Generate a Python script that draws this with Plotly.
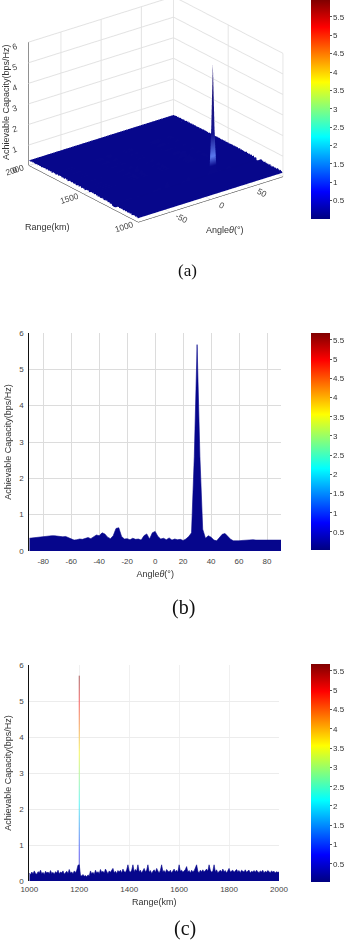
import numpy as np
import plotly.graph_objects as go

# ---------------- data ----------------
angle_deg = list(range(-90, 91, 2))
angle_cap = [0.35, 0.36, 0.37, 0.39, 0.40, 0.40, 0.41, 0.41, 0.42, 0.42,
             0.41, 0.38, 0.39, 0.40, 0.37, 0.33, 0.30, 0.31, 0.33, 0.32,
             0.35, 0.37, 0.34, 0.40, 0.44, 0.42, 0.50, 0.47, 0.38, 0.34,
             0.42, 0.62, 0.64, 0.40, 0.33, 0.34, 0.31, 0.35, 0.32, 0.33,
             0.30, 0.42, 0.47, 0.33, 0.50, 0.54, 0.40, 0.33, 0.35, 0.31,
             0.36, 0.30, 0.33, 0.31, 0.32, 0.29, 0.33, 0.40, 0.50, 2.60,
             5.68, 2.60, 0.60, 0.35, 0.42, 0.38, 0.30, 0.28, 0.36, 0.46,
             0.48, 0.40, 0.32, 0.28, 0.27, 0.28, 0.29, 0.30, 0.30, 0.31,
             0.31, 0.30, 0.30, 0.29, 0.30, 0.30, 0.29, 0.30, 0.30, 0.30,
             0.30]

range_km = list(range(1000, 2001, 5))
range_cap = [0.22, 0.18, 0.25, 0.20, 0.28, 0.21, 0.19, 0.26, 0.23, 0.30,
             0.20, 0.24, 0.18, 0.27, 0.22, 0.25, 0.20, 0.29, 0.21, 0.24,
             0.19, 0.26, 0.22, 0.30, 0.20, 0.25, 0.23, 0.28, 0.19, 0.24,
             0.27, 0.21, 0.32, 0.22, 0.25, 0.20, 0.28, 0.23, 0.30, 0.44,
             5.68,
             0.16, 0.14, 0.18, 0.13, 0.15, 0.12, 0.17, 0.14, 0.28, 0.20,
             0.24, 0.18, 0.30, 0.22, 0.26, 0.20, 0.32, 0.24, 0.27,
             0.22, 0.33, 0.25, 0.20, 0.28, 0.24, 0.30, 0.35, 0.23, 0.27,
             0.21, 0.29, 0.25, 0.30, 0.22, 0.33, 0.26, 0.24, 0.31, 0.45,
             0.28, 0.24, 0.30, 0.50, 0.26, 0.32, 0.27, 0.55, 0.25, 0.30,
             0.22, 0.28, 0.35, 0.26, 0.30, 0.68, 0.24, 0.29, 0.21, 0.27,
             0.31, 0.24, 0.35, 0.28, 0.22, 0.30, 0.50, 0.26, 0.29, 0.23,
             0.32, 0.27, 0.25, 0.30, 0.22, 0.28, 0.33, 0.25, 0.30, 0.24,
             0.45, 0.27, 0.30, 0.24, 0.28, 0.32, 0.40, 0.25, 0.29, 0.22,
             0.30, 0.26, 0.28, 0.35, 0.50, 0.27, 0.23, 0.30, 0.26, 0.31,
             0.25, 0.29, 0.33, 0.27, 0.55, 0.30, 0.24, 0.28, 0.45, 0.26,
             0.31, 0.23, 0.27, 0.30, 0.25, 0.33, 0.26, 0.29, 0.22, 0.28,
             0.35, 0.25, 0.28, 0.30, 0.24, 0.27, 0.32, 0.26, 0.29, 0.23,
             0.30, 0.27, 0.25, 0.31, 0.24, 0.28, 0.30, 0.22, 0.27, 0.25,
             0.29, 0.24, 0.30, 0.26, 0.23, 0.28, 0.25, 0.30, 0.22, 0.27,
             0.24, 0.29, 0.26, 0.23, 0.28, 0.25, 0.27, 0.22, 0.26, 0.24,
             0.25]

peak_capacity = 5.68
peak_angle = 30
peak_range = 1200

cap_ticks = [0.5, 1, 1.5, 2, 2.5, 3, 3.5, 4, 4.5, 5, 5.5]
cap_ticktext = ['0.5', '1', '1.5', '2', '2.5', '3', '3.5', '4', '4.5', '5', '5.5']
z_ticks = [0, 1, 2, 3, 4, 5, 6]
angle_ticks_2d = [-80, -60, -40, -20, 0, 20, 40, 60, 80]
angle_ticktext_2d = ['-80', '-60', '-40', '-20', '0', '20', '40', '60', '80']
angle_ticks_3d = [-50, 0, 50]
angle_ticktext_3d = ['-50', '0', '50']
range_ticks_2d = [1000, 1200, 1400, 1600, 1800, 2000]
range_ticks_3d = [1000, 1500, 2000]

# ---------------- style ----------------
W, H = 346, 946
NAVY = '#06068c'
JET = [[0.0, '#000080'], [0.125, '#0000ff'], [0.375, '#00ffff'],
       [0.625, '#ffff00'], [0.875, '#ff0000'], [1.0, '#800000']]
# surface rendered dark like a densely meshed MATLAB surf
SURF = [[0.0, '#07078a'], [0.12, '#08088c'], [0.2, '#5a78ee'],
        [0.38, '#14148e'], [1.0, '#2a1c72']]
SANS = 'Liberation Sans, Arial, sans-serif'
TICKFONT = dict(family=SANS, size=8, color='#444')
TICKFONT3D = dict(family=SANS, size=10, color='#444')
TITLEFONT = dict(family=SANS, size=9, color='#333')


def px_x(p):
    return p / W


def px_y(p):
    return 1 - p / H


def cbar(top, bottom):
    return dict(x=px_x(311), xanchor='left', xpad=0,
                y=px_y(top), yanchor='top', ypad=0,
                len=(bottom - top) / H, lenmode='fraction',
                thickness=19, thicknessmode='pixels',
                outlinewidth=0, ticks='outside', ticklen=2, tickcolor='#555',
                tickvals=cap_ticks, ticktext=cap_ticktext,
                tickfont=dict(family=SANS, size=8, color='#333'))


def note(text, x, y, font, angle=0):
    return dict(text=text, x=px_x(x), y=px_y(y), xref='paper', yref='paper',
                xanchor='center', yanchor='middle', textangle=angle,
                showarrow=False, font=font)


# surface table built from the two profiles
Z = np.minimum.outer(np.array(range_cap), np.array(angle_cap))

fig = go.Figure()

# (a) 3D surface
fig.add_trace(go.Surface(
    x=angle_deg, y=range_km, z=Z, scene='scene',
    colorscale=SURF, cmin=0, cmax=5.96, showscale=False,
    lighting=dict(ambient=1, diffuse=0, specular=0, roughness=1, fresnel=0),
    hoverinfo='skip'))
# colour bar of (a)
fig.add_trace(go.Scatter(
    x=[peak_angle], y=[peak_capacity], mode='markers',
    marker=dict(size=1, opacity=0, color=[peak_capacity], colorscale=JET,
                cmin=0, cmax=5.96, showscale=True, colorbar=cbar(0, 219)),
    xaxis='x', yaxis='y', hoverinfo='skip', showlegend=False))

# (b) angle profile
fig.add_trace(go.Scatter(
    x=angle_deg, y=angle_cap, mode='lines', fill='tozeroy',
    line=dict(color=NAVY, width=0.6), fillcolor=NAVY,
    xaxis='x', yaxis='y', hoverinfo='skip', showlegend=False))
fig.add_trace(go.Scatter(
    x=[peak_angle], y=[peak_capacity], mode='markers',
    marker=dict(size=1, opacity=0, color=[peak_capacity], colorscale=JET,
                cmin=0.03, cmax=peak_capacity, showscale=True, colorbar=cbar(333, 550)),
    xaxis='x', yaxis='y', hoverinfo='skip', showlegend=False))

# (c) range profile (floor) + coloured spike
floor_cap = np.minimum(np.array(range_cap), 0.45)
fig.add_trace(go.Scatter(
    x=range_km, y=floor_cap, mode='lines', fill='tozeroy',
    line=dict(color=NAVY, width=0.6), fillcolor=NAVY,
    xaxis='x2', yaxis='y2', hoverinfo='skip', showlegend=False))
levels = np.linspace(0, peak_capacity, 120)
fig.add_trace(go.Heatmap(
    x=[peak_range - 1, peak_range + 1], y=levels,
    z=[[v, v] for v in levels], colorscale=JET, zmin=0.03, zmax=peak_capacity,
    opacity=0.6, showscale=True, colorbar=cbar(664, 882),
    xaxis='x2', yaxis='y2', hoverinfo='skip'))

axis2d = dict(showgrid=True, gridcolor='#dcdcdc', gridwidth=1, zeroline=False,
              ticks='', tickfont=TICKFONT, showline=False, automargin=False)

# 3D camera: orthographic, azimuth ~ -38 deg, elevation ~ 24 deg
view_dir = np.array([-0.562, -0.722, 0.404])
view_dir = view_dir / np.linalg.norm(view_dir)
cam_center = np.array([-0.789 * 0.045, 0.614 * 0.045, -0.18])
cam_eye = cam_center + 1.5 * view_dir

axis3d = dict(tickfont=TICKFONT3D, gridcolor='#e2e2e2', showbackground=False,
              showline=True, linecolor='#222', zeroline=False, showspikes=False,
              title=dict(text=''))

fig.update_layout(
    width=W, height=H, margin=dict(l=0, r=0, t=0, b=0, autoexpand=False),
    paper_bgcolor='white', plot_bgcolor='white', showlegend=False,
    xaxis=dict(axis2d, domain=[px_x(29.3), px_x(281)], range=[-90, 90],
               tickvals=angle_ticks_2d, ticktext=angle_ticktext_2d, anchor='y',
               ticklabelstandoff=4,
               title=dict(text='Angle<i>θ</i>(°)', font=TITLEFONT, standoff=5)),
    yaxis=dict(axis2d, domain=[px_y(551), px_y(333)], range=[0, 6],
               tickvals=z_ticks, anchor='x', showline=True, linecolor='#111', linewidth=1,
               ticklabelstandoff=3,
               title=dict(text='Achievable Capacity(bps/Hz)', font=TITLEFONT, standoff=6)),
    xaxis2=dict(axis2d, domain=[px_x(29.3), px_x(279)], range=[1000, 2000],
                tickvals=range_ticks_2d, anchor='y2', gridcolor='#f0f0f0',
                ticklabelstandoff=2,
                title=dict(text='Range(km)', font=TITLEFONT, standoff=5)),
    yaxis2=dict(axis2d, domain=[px_y(881), px_y(665)], range=[0, 6],
                tickvals=z_ticks, anchor='x2', gridcolor='#ececec',
                showline=True, linecolor='#111', linewidth=1, ticklabelstandoff=3,
                title=dict(text='Achievable Capacity(bps/Hz)', font=TITLEFONT, standoff=6)),
    scene=dict(
        domain=dict(x=[0, px_x(300)], y=[px_y(262), 1]),
        xaxis=dict(axis3d, range=[-90, 90], tickvals=angle_ticks_3d,
                   ticktext=angle_ticktext_3d),
        yaxis=dict(axis3d, range=[1000, 2000], tickvals=range_ticks_3d),
        zaxis=dict(axis3d, range=[0, 6], tickvals=z_ticks),
        aspectmode='manual', aspectratio=dict(x=1.40, y=1.36, z=1.03),
        camera=dict(projection=dict(type='orthographic'),
                    eye=dict(x=cam_eye[0], y=cam_eye[1], z=cam_eye[2]),
                    up=dict(x=0, y=0, z=1),
                    center=dict(x=cam_center[0], y=cam_center[1], z=cam_center[2])),
    ),
    annotations=[
        note('Achievable Capacity(bps/Hz)', 6, 102, TITLEFONT, -90),
        note('Range(km)', 48, 227, TITLEFONT),
        note('Angle<i>θ</i>(°)', 225, 230, TITLEFONT),
        note('(a)', 187, 270, dict(family='Liberation Serif, serif', size=17, color='#111')),
        note('(b)', 183, 607, dict(family='Liberation Serif, serif', size=20, color='#111')),
        note('(c)', 185, 928, dict(family='Liberation Serif, serif', size=20, color='#111')),
    ],
)

fig.write_html('out.html', config={'displayModeBar': False})
